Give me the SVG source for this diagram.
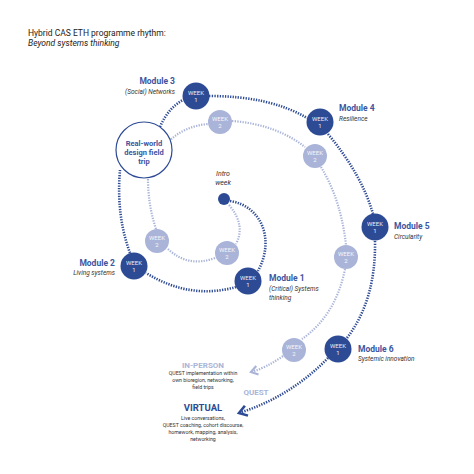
<svg xmlns="http://www.w3.org/2000/svg" width="474" height="474" viewBox="0 0 474 474">
<defs>
<style>
text{font-family:Roboto,"Liberation Sans",sans-serif}
.dk{fill:none;stroke:#2d4a94;stroke-width:2.6;stroke-dasharray:1.3 1.3}
.lt{fill:none;stroke:#a9b4d8;stroke-width:2.2;stroke-dasharray:1.3 1.3}
.n1{fill:#2d4a94}
.n2{fill:#a9b4d8}
.wk{font-size:6px;fill:#ffffff;text-anchor:middle;opacity:0.9}
.mod{font-size:8.5px;font-weight:bold;fill:#3b55a0}
.sub{font-size:6.5px;font-style:italic;fill:#333}
.leg{font-size:5.2px;fill:#333;text-anchor:middle}
</style>
<marker id="ad" viewBox="0 0 10 10" refX="8" refY="5" markerWidth="5" markerHeight="5" orient="auto">
<path d="M2,1 L8,5 L2,9" fill="none" stroke="#2d4a94" stroke-width="2"/>
</marker>
<marker id="al" viewBox="0 0 10 10" refX="8" refY="5" markerWidth="5" markerHeight="5" orient="auto">
<path d="M2,1 L8,5 L2,9" fill="none" stroke="#a9b4d8" stroke-width="2"/>
</marker>
</defs>
<rect width="474" height="474" fill="#ffffff"/>
<text x="28" y="36" font-size="8.5" fill="#222">Hybrid CAS ETH programme rhythm:</text>
<text x="28" y="46" font-size="8.5" font-style="italic" fill="#222">Beyond systems thinking</text>

<g id="connectors">
<path class="dk" d="M230,201 C262,206 275,240 258,271"/>
<path class="dk" d="M236,287 Q190,300 146,273"/>
<path class="dk" d="M130,253 Q116,215 120,170"/>
<path class="dk" d="M160,127 Q168,108 183,100"/>
<path class="dk" d="M209,96 Q270,96 307,118"/>
<path class="dk" d="M328,134 Q362,175 373,214"/>
<path class="dk" d="M375,241 Q376,300 347,338"/>
<path class="dk" d="M328,358 Q290,397 239,413" marker-end="url(#ad)"/>
<path class="lt" d="M229,205 Q246,225 236,244"/>
<path class="lt" d="M215,258 Q188,268 168,249"/>
<path class="lt" d="M156,229 Q148,205 148,179"/>
<path class="lt" d="M169,141 Q185,126 208,124"/>
<path class="lt" d="M232,121 Q275,124 305,147"/>
<path class="lt" d="M321,167 Q341,200 346,245"/>
<path class="lt" d="M345,269 Q336,315 302,339"/>
<path class="lt" d="M283,356 Q266,368 251,372" marker-end="url(#al)"/>
</g>

<g id="intro">
<circle cx="224" cy="199" r="6" class="n1"/>
<text x="223" y="176" font-size="7" font-style="italic" fill="#333" text-anchor="middle">Intro</text>
<text x="223" y="185" font-size="7" font-style="italic" fill="#333" text-anchor="middle">week</text>
</g>

<g id="fieldtrip">
<circle cx="144" cy="150" r="28" fill="#fff" stroke="#2d4a94" stroke-width="1.2"/>
<text x="144" y="146" font-size="7.5" font-weight="bold" fill="#3b55a0" text-anchor="middle">Real-world</text>
<text x="144" y="155" font-size="7.5" font-weight="bold" fill="#3b55a0" text-anchor="middle">design field</text>
<text x="144" y="164" font-size="7.5" font-weight="bold" fill="#3b55a0" text-anchor="middle">trip</text>
</g>

<g id="m1w1"><circle cx="248" cy="281" r="13.5" class="n1"/><text class="wk" x="248" y="280">WEEK</text><text class="wk" x="248" y="287">1</text></g>
<g id="m1label"><text class="mod" x="269" y="281">Module 1</text><text class="sub" x="269" y="291">(Critical) Systems</text><text class="sub" x="269" y="300">thinking</text></g>

<g id="m2w1"><circle cx="134" cy="266" r="13.5" class="n1"/><text class="wk" x="134" y="265">WEEK</text><text class="wk" x="134" y="272">1</text></g>
<g id="m2label"><text class="mod" x="115" y="266" text-anchor="end">Module 2</text><text class="sub" x="115" y="275" text-anchor="end">Living systems</text></g>

<g id="m3w1"><circle cx="196" cy="96" r="13.5" class="n1"/><text class="wk" x="196" y="95">WEEK</text><text class="wk" x="196" y="102">1</text></g>
<g id="m3label"><text class="mod" x="175" y="84" text-anchor="end">Module 3</text><text class="sub" x="175" y="94" text-anchor="end">(Social) Networks</text></g>

<g id="m4w1"><circle cx="320" cy="122" r="13.5" class="n1"/><text class="wk" x="320" y="121">WEEK</text><text class="wk" x="320" y="128">1</text></g>
<g id="m4label"><text class="mod" x="339" y="111">Module 4</text><text class="sub" x="339" y="121">Resilience</text></g>

<g id="m5w1"><circle cx="375" cy="227" r="13.5" class="n1"/><text class="wk" x="375" y="226">WEEK</text><text class="wk" x="375" y="233">1</text></g>
<g id="m5label"><text class="mod" x="394" y="229">Module 5</text><text class="sub" x="394" y="239">Circularity</text></g>

<g id="m6w1"><circle cx="338" cy="349" r="13.5" class="n1"/><text class="wk" x="338" y="348">WEEK</text><text class="wk" x="338" y="355">1</text></g>
<g id="m6label"><text class="mod" x="358" y="352">Module 6</text><text class="sub" x="358" y="361">Systemic innovation</text></g>

<g id="w2a"><circle cx="227" cy="253" r="12" class="n2"/><text class="wk" x="227" y="252">WEEK</text><text class="wk" x="227" y="259">2</text></g>
<g id="w2b"><circle cx="157" cy="241" r="12" class="n2"/><text class="wk" x="157" y="240">WEEK</text><text class="wk" x="157" y="247">2</text></g>
<g id="w2c"><circle cx="220" cy="122" r="12" class="n2"/><text class="wk" x="220" y="121">WEEK</text><text class="wk" x="220" y="128">2</text></g>
<g id="w2d"><circle cx="315" cy="156" r="12" class="n2"/><text class="wk" x="315" y="155">WEEK</text><text class="wk" x="315" y="162">2</text></g>
<g id="w2e"><circle cx="346" cy="257" r="12" class="n2"/><text class="wk" x="346" y="256">WEEK</text><text class="wk" x="346" y="263">2</text></g>
<g id="w2f"><circle cx="294" cy="350" r="12" class="n2"/><text class="wk" x="294" y="349">WEEK</text><text class="wk" x="294" y="356">2</text></g>

<g id="legend">
<text x="203" y="368" font-size="8" font-weight="bold" fill="#a9b4d8" text-anchor="middle">IN-PERSON</text>
<text class="leg" x="203" y="375">QUEST implementation within</text>
<text class="leg" x="203" y="382">own bioregion, networking,</text>
<text class="leg" x="203" y="389">field trips</text>
<text x="256" y="395" font-size="8" font-weight="bold" fill="#a9b4d8" text-anchor="middle">QUEST</text>
<text x="203" y="411" font-size="9.5" font-weight="bold" fill="#2d4a94" text-anchor="middle">VIRTUAL</text>
<text class="leg" x="203" y="420">Live conversations,</text>
<text class="leg" x="203" y="427">QUEST coaching, cohort discourse,</text>
<text class="leg" x="203" y="434">homework, mapping, analysis,</text>
<text class="leg" x="203" y="441">networking</text>
</g>
</svg>
